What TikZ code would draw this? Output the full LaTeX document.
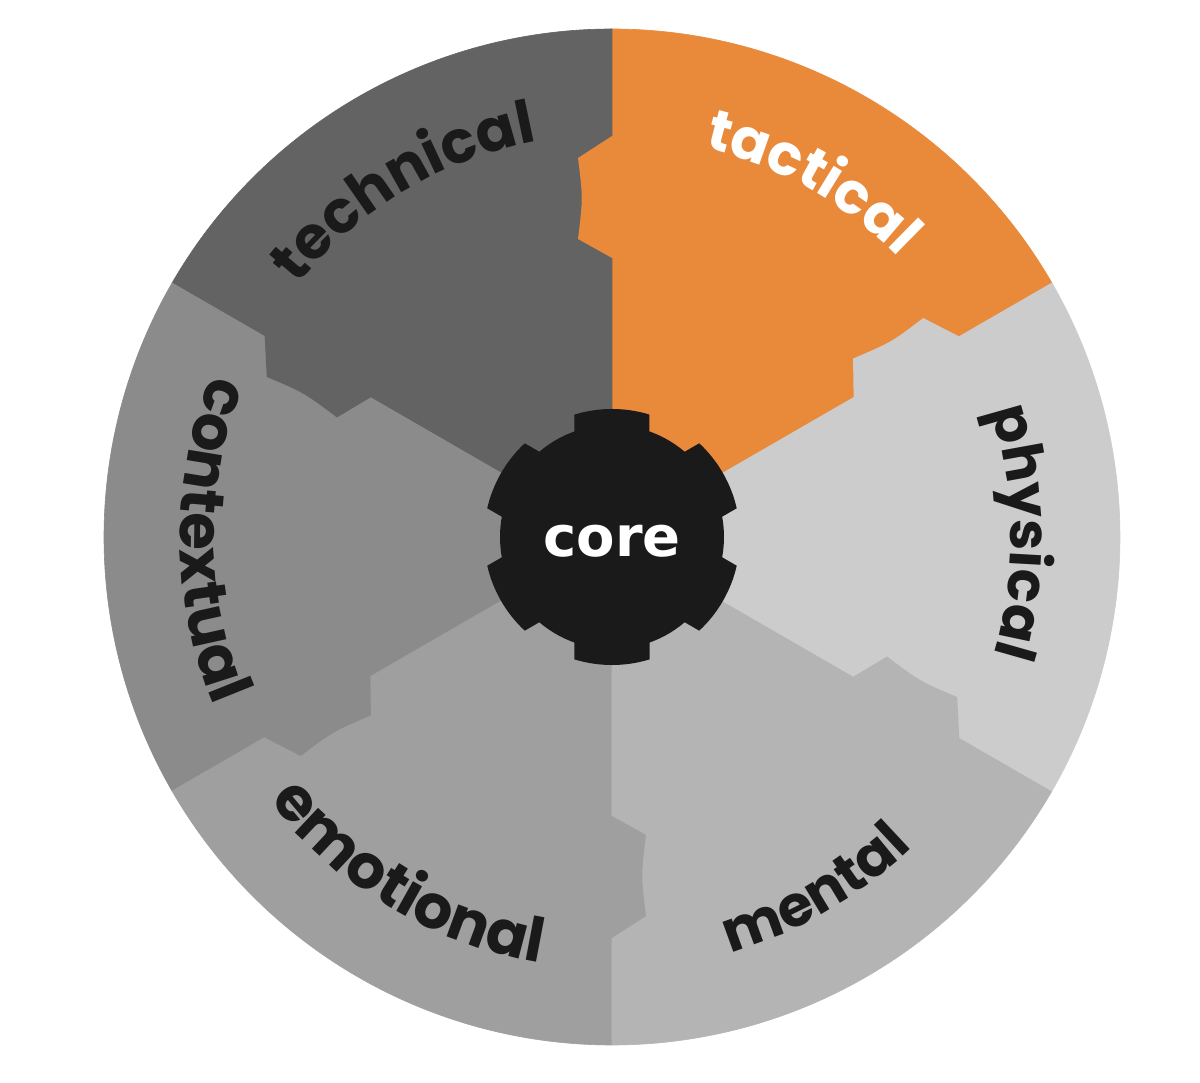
\documentclass[tikz,border=0pt]{standalone}
\usepackage{fontspec}
\newfontfamily\lblfont{Poppins}
\newfontfamily\corefont{DejaVu Sans}
\usetikzlibrary{decorations.text}
\definecolor{cTech}{HTML}{636363}
\definecolor{cTact}{HTML}{E98A3B}
\definecolor{cPhys}{HTML}{CCCCCC}
\definecolor{cMent}{HTML}{B4B4B4}
\definecolor{cEmot}{HTML}{9F9F9F}
\definecolor{cCont}{HTML}{8B8B8B}
\definecolor{cGear}{HTML}{1A1A1A}
\definecolor{cTxt}{HTML}{1A1A1A}
\newcommand\lblfmt[1]{\lblfont\bfseries\fontsize{#1}{#1}\selectfont}
\tikzset{
  sectorfill/.style={fill=#1, draw=#1, line width=0.6pt},
  tabfill/.style={fill=#1},
  gearfill/.style={fill=cGear},
  arclabel/.style={decorate, decoration={text along path, text align=center, text={#1}}},
}
\begin{document}
\begin{tikzpicture}[x=1pt,y=1pt]
\fill[white] (-612,-546) rectangle (588,537);
\useasboundingbox (-612,-546) rectangle (588,537);
% sectors
\foreach \a/\c in {30/cTact, 90/cTech, 150/cCont, 210/cEmot, 270/cMent, 330/cPhys} {
  \path[sectorfill=\c] (0,0) -- (\a:508) arc[start angle=\a, end angle=\a+60, radius=508] -- cycle;
}
% tabs (each sector pushes a tooth into its counter-clockwise neighbour)
\foreach \a/\c in {30/cTact, 90/cTech, 150/cCont, 210/cEmot, 270/cMent, 330/cPhys} {
  \path[tabfill=\c, rotate=\a+60] (279,-2) -- (279,0) -- (298,34) .. controls (339,29) .. (379,34) -- (401,0) -- (401,-2) -- cycle;
}
% gear
\path[gearfill] (0,0) circle[radius=112];
\foreach \t in {30,90,150,210,270,330} {
  \path[gearfill, rotate=\t] (100,-37.5) -- (122.4,-37.5) arc[start angle=-17.04, end angle=17.04, radius=128] -- (100,37.5) -- cycle;
}
\node[text=white, font=\corefont\bfseries\fontsize{56}{56}\selectfont, inner sep=0pt] (core) at (0,-4) {core};
% labels
\path[arclabel={|\lblfmt{59}\color{cTxt}|technical}] (176:403) arc[start angle=176, end angle=66, radius=403];
\path[arclabel={|\lblfmt{57}\color{white}|tactical}] (115.5:400) arc[start angle=115.5, end angle=5.5, radius=400];
\path[arclabel={|\lblfmt{56}\color{cTxt}|physical}] (55.7:399) arc[start angle=55.7, end angle=-54.3, radius=399];
\path[arclabel={|\lblfmt{57}\color{cTxt}|mental}] (245:432) arc[start angle=245, end angle=355, radius=432];
\path[arclabel={|\lblfmt{61}\color{cTxt}|emotional}] (184:432) arc[start angle=184, end angle=294, radius=432];
\path[arclabel={|\lblfmt{61}\color{cTxt}|contextual}] (125.5:432) arc[start angle=125.5, end angle=235.5, radius=432];
\end{tikzpicture}
\end{document}
